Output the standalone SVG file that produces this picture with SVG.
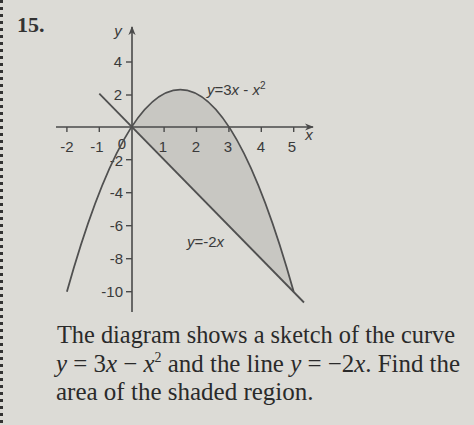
<svg xmlns="http://www.w3.org/2000/svg" width="474" height="425" viewBox="0 0 474 425">
<defs>
<style>
.ax{stroke:#4a4a4a;stroke-width:1.6;fill:none}
.cv{stroke:#505050;stroke-width:1.8;fill:none}
.tk{stroke:#4a4a4a;stroke-width:1.4}
.lb{font-family:"Liberation Sans",Arial,sans-serif;font-size:15px;fill:#3a3a3a}
.it{font-style:italic}
.bt{font-family:"Liberation Serif","Times New Roman",serif;font-size:25px;fill:#2a2a2a}
</style>
<marker id="ah" viewBox="0 0 10 10" refX="9" refY="5" markerWidth="9" markerHeight="9" markerUnits="userSpaceOnUse" orient="auto">
<path d="M0,1 L10,5 L0,9 L3,5 Z" fill="#4a4a4a"/>
</marker>
</defs>
<rect width="474" height="425" fill="#dcdbd6"/>
<line x1="1.5" y1="0" x2="1.5" y2="425" stroke="#333" stroke-width="3" stroke-dasharray="3 4"/>
<text x="17" y="32" font-family="Liberation Serif,serif" font-weight="bold" font-size="22" fill="#333">15.</text>

<g id="shaded">
<path d="M131.7,126.7 Q212.7,2.95 293.7,291.7 L131.7,126.7 Z" fill="#c8c7c2"/>
</g>

<g id="axes">
<line class="ax" x1="56" y1="127" x2="313" y2="127" marker-end="url(#ah)"/>
<line class="ax" x1="132" y1="312" x2="132" y2="27" marker-end="url(#ah)"/>
<g class="tk">
<line x1="66.9" y1="127" x2="66.9" y2="132"/>
<line x1="99.3" y1="127" x2="99.3" y2="132"/>
<line x1="164.1" y1="127" x2="164.1" y2="132"/>
<line x1="196.5" y1="127" x2="196.5" y2="132"/>
<line x1="228.9" y1="127" x2="228.9" y2="132"/>
<line x1="261.3" y1="127" x2="261.3" y2="132"/>
<line x1="293.7" y1="127" x2="293.7" y2="132"/>
<line x1="126" y1="62" x2="132" y2="62"/>
<line x1="126" y1="95" x2="132" y2="95"/>
<line x1="126" y1="159.7" x2="132" y2="159.7"/>
<line x1="126" y1="192.7" x2="132" y2="192.7"/>
<line x1="126" y1="225.7" x2="132" y2="225.7"/>
<line x1="126" y1="258.7" x2="132" y2="258.7"/>
<line x1="126" y1="291.7" x2="132" y2="291.7"/>
</g>
<text class="lb it" x="309" y="140" text-anchor="middle">x</text>
<text class="lb it" x="118" y="36" text-anchor="middle">y</text>
<g class="lb" text-anchor="middle">
<text x="67" y="152">-2</text>
<text x="97" y="152">-1</text>
<text x="122" y="149">0</text>
<text x="163" y="152">1</text>
<text x="196" y="152">2</text>
<text x="228" y="152">3</text>
<text x="261" y="152">4</text>
<text x="292" y="152">5</text>
</g>
<g class="lb" text-anchor="end">
<text x="122" y="67">4</text>
<text x="122" y="100">2</text>
<text x="123" y="166">-2</text>
<text x="123" y="198">-4</text>
<text x="123" y="231">-6</text>
<text x="123" y="264">-8</text>
<text x="123" y="297">-10</text>
</g>
</g>

<g id="connectors">
<path id="parabola" class="cv" d="M66.9,291.7 Q180.3,-112.55 293.7,291.7"/>
<line id="line" class="cv" x1="99.3" y1="93.7" x2="304" y2="302.5"/>
</g>

<g id="labels">
<text class="lb" x="207" y="95"><tspan class="it">y</tspan>=3<tspan class="it">x</tspan> - <tspan class="it">x</tspan><tspan font-size="10" dy="-6">2</tspan></text>
<text class="lb" x="187" y="247"><tspan class="it">y</tspan>=-2<tspan class="it">x</tspan></text>
</g>

<g id="question">
<text class="bt" x="57" y="343" textLength="398" lengthAdjust="spacingAndGlyphs">The diagram shows a sketch of the curve</text>
<text class="bt" x="56" y="372" textLength="404" lengthAdjust="spacingAndGlyphs"><tspan font-style="italic">y</tspan> = 3<tspan font-style="italic">x</tspan> − <tspan font-style="italic">x</tspan><tspan font-size="14" dy="-10">2</tspan><tspan dy="10"> and the line </tspan><tspan font-style="italic">y</tspan> = −2<tspan font-style="italic">x</tspan>. Find the</text>
<text class="bt" x="56" y="400">area of the shaded region.</text>
</g>
</svg>
